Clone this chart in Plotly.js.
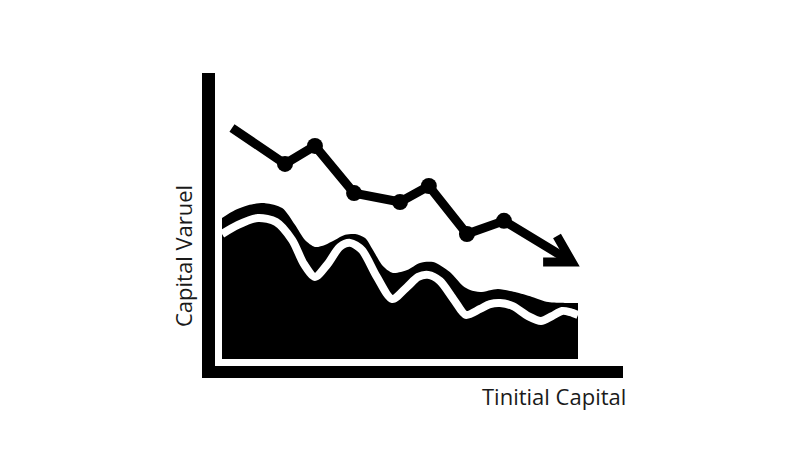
<!DOCTYPE html>
<html>
<head>
<meta charset="utf-8">
<script src="https://cdn.plot.ly/plotly-3.0.1.min.js"></script>
<style>
  html, body { margin: 0; padding: 0; background: #ffffff; }
  #chart { width: 800px; height: 450px; }
</style>
</head>
<body>
<div id="chart"></div>
<script>
// Declining capital line (with arrow at the end)
const lineX = [0.28, 1.77, 2.61, 3.71, 5.00, 5.81, 6.88, 7.92, 9.83];
const lineY = [80.8, 68.2, 74.5, 58.0, 54.9, 60.5, 43.7, 48.3, 33.9];
const markerSizes = [0, 16, 16, 16, 16, 16, 16, 16, 0];

// Arrow head strokes at end of line
const headX = [9.02, 9.83, 9.41];
const headY = [33.9, 33.9, 43.0];

// Upper edge of the black filled area
const areaX = [0, 0.37, 0.73, 1.21, 1.69, 2.05, 2.33, 2.61, 2.89, 3.17, 3.46, 3.74, 4.02, 4.24, 4.52, 4.80,
               5.20, 5.56, 5.93, 6.40, 6.77, 6.97, 7.25, 7.75, 8.23, 8.71, 9.16, 9.63, 10];
const areaY = [49.3, 52.1, 53.8, 54.5, 52.8, 46.9, 41.6, 39.2, 39.9, 41.6, 43.4, 43.7, 42.3, 38.1, 32.5, 30.1,
               31.1, 33.6, 33.9, 30.4, 25.5, 24.1, 23.4, 24.5, 23.4, 21.7, 19.9, 19.6, 19.6];

// White wave line inside the area
const waveX = [0, 0.45, 1.01, 1.52, 1.97, 2.30, 2.61, 2.95, 3.31, 3.60, 3.93, 4.35, 4.78, 5.20, 5.51, 5.79,
               6.12, 6.52, 6.85, 7.25, 7.53, 7.81, 8.17, 8.60, 8.96, 9.27, 9.55, 9.78, 10];
const waveY = [43.7, 46.9, 49.3, 47.9, 41.6, 33.2, 28.7, 32.9, 39.2, 40.6, 38.1, 28.7, 21.0, 25.2, 28.7, 29.4,
               27.3, 20.6, 15.4, 17.5, 19.2, 19.6, 18.5, 15.0, 13.3, 15.0, 16.8, 16.4, 15.4];

const yTitle = "Capital Varuel";
const xTitle = "Tinitial Capital";

const traces = [
  {
    x: areaX, y: areaY, type: 'scatter', mode: 'lines',
    line: { shape: 'spline', smoothing: 0.8, color: '#000000', width: 0 },
    fill: 'tozeroy', fillcolor: '#000000', hoverinfo: 'skip'
  },
  {
    x: waveX, y: waveY, type: 'scatter', mode: 'lines',
    line: { shape: 'spline', smoothing: 0.8, color: '#ffffff', width: 8 },
    hoverinfo: 'skip'
  },
  {
    x: lineX, y: lineY, type: 'scatter', mode: 'lines+markers',
    line: { color: '#000000', width: 9 },
    marker: { color: '#000000', size: markerSizes, opacity: 1, line: { width: 0 } },
    hoverinfo: 'skip'
  },
  {
    x: headX, y: headY, type: 'scatter', mode: 'lines',
    line: { color: '#000000', width: 9 },
    hoverinfo: 'skip'
  }
];

const layout = {
  width: 800, height: 450,
  margin: { l: 215, r: 177, t: 73, b: 84, pad: 0 },
  paper_bgcolor: '#ffffff', plot_bgcolor: '#ffffff',
  showlegend: false,
  xaxis: {
    range: [-0.197, 11.264], showgrid: false, zeroline: false,
    showticklabels: false, ticks: '', showline: true, linecolor: '#000000', linewidth: 12,
    fixedrange: true
  },
  yaxis: {
    range: [-2.45, 100], showgrid: false, zeroline: false,
    showticklabels: false, ticks: '', showline: true, linecolor: '#000000', linewidth: 13,
    fixedrange: true
  },
  annotations: [
    {
      text: xTitle, xref: 'paper', yref: 'paper', x: 1.0123, y: -0.1024,
      xanchor: 'right', yanchor: 'middle', showarrow: false,
      font: { family: 'Open Sans, sans-serif', size: 22, color: '#1a1a1a' }
    },
    {
      text: yTitle, xref: 'paper', yref: 'paper', x: -0.0784, y: 0.3754,
      xanchor: 'center', yanchor: 'middle', showarrow: false, textangle: -90,
      font: { family: 'Open Sans, sans-serif', size: 22, color: '#1a1a1a' }
    }
  ]
};

Plotly.newPlot('chart', traces, layout, { displayModeBar: false, staticPlot: true });
</script>
</body>
</html>
